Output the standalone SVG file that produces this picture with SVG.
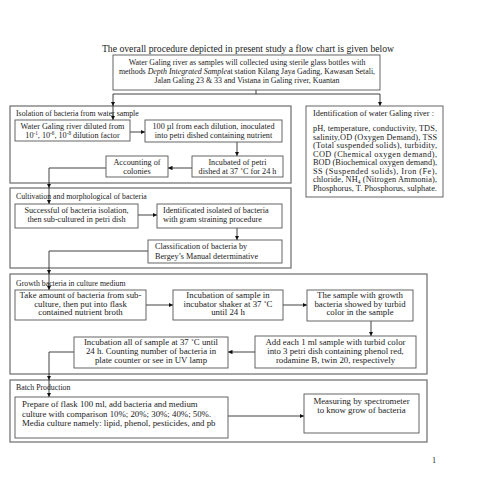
<svg xmlns="http://www.w3.org/2000/svg" width="495" height="495" viewBox="0 0 495 495">
<style>
text{font-family:"Liberation Serif","Times New Roman",serif;fill:#1a1a1a;font-size:8.2px}
.t{font-size:9.7px}
.top{font-size:7.9px}
.big{font-size:8.8px}
.id{font-size:8.3px}
.c{text-anchor:middle}
.lab{font-size:7.8px}
.sec{fill:none;stroke:#777;stroke-width:1.3}
.box{fill:#fff;stroke:#555;stroke-width:0.9}
.ln{fill:none;stroke:#111;stroke-width:0.8}
</style>
<defs>
<marker id="ah" viewBox="0 0 6 6" refX="6" refY="3" markerWidth="4.5" markerHeight="4.5" orient="auto" markerUnits="userSpaceOnUse">
<path d="M0,0 L6,3 L0,6 z" fill="#111"/>
</marker>
</defs>
<rect width="495" height="495" fill="#fff"/>
<text class="t c" x="248" y="52">The overall procedure depicted in present study a flow chart is given below</text>

<g id="sections">
<rect id="sec-isolation" class="sec" x="10" y="106" width="281" height="77"/>
<rect id="sec-cultivation" class="sec" x="10" y="188" width="281" height="80"/>
<rect id="sec-growth" class="sec" x="10" y="274" width="417" height="100"/>
<rect id="sec-batch" class="sec" x="10" y="380" width="417" height="62"/>
<text class="lab" x="16" y="116">Isolation of bacteria from water sample</text>
<text class="lab" x="16" y="199">Cultivation and morphological of bacteria</text>
<text class="lab" x="16" y="285.5">Growth bacteria in culture medium</text>
<text class="lab" x="16" y="390">Batch Production</text>
</g>

<g id="connectors">
<path class="ln" d="M256,90 V94 M113,94 H380"/>
<path class="ln" d="M113,94 V106" marker-end="url(#ah)"/>
<path class="ln" d="M113,106 V120" marker-end="url(#ah)"/>
<path class="ln" d="M380,94 V106" marker-end="url(#ah)"/>
<path class="ln" d="M130,132 H145" marker-end="url(#ah)"/>
<path class="ln" d="M237,142 V156" marker-end="url(#ah)"/>
<path class="ln" d="M192,168 H168" marker-end="url(#ah)"/>
<path class="ln" d="M106,168 H49 V188" marker-end="url(#ah)"/>
<path class="ln" d="M49,188 V204" marker-end="url(#ah)"/>
<path class="ln" d="M138,215 H157" marker-end="url(#ah)"/>
<path class="ln" d="M237,228 V240" marker-end="url(#ah)"/>
<path class="ln" d="M148,251 H49 V274" marker-end="url(#ah)"/>
<path class="ln" d="M49,274 V290" marker-end="url(#ah)"/>
<path class="ln" d="M146,305 H173" marker-end="url(#ah)"/>
<path class="ln" d="M283,305 H307" marker-end="url(#ah)"/>
<path class="ln" d="M371,321 V336" marker-end="url(#ah)"/>
<path class="ln" d="M255,352 H228" marker-end="url(#ah)"/>
<path class="ln" d="M74,352 H49 V380" marker-end="url(#ah)"/>
<path class="ln" d="M49,380 V397" marker-end="url(#ah)"/>
<path class="ln" d="M228,416 H304" marker-end="url(#ah)"/>
</g>

<g id="n-water">
<rect class="box" x="113" y="55" width="267" height="35"/>
<text class="top c" x="247" y="65">Water Galing river as samples will collected using sterile glass bottles with</text>
<text class="top c" x="247" y="74">methods <tspan font-style="italic">Depth Integrated Sample</tspan>at station Kilang Jaya Gading, Kawasan Setali,</text>
<text class="top c" x="247" y="83">Jalan Galing 23 &amp; 33 and Vistana in Galing river, Kuantan</text>
</g>

<g id="n-ident">
<rect class="box" x="306" y="106" width="137" height="91"/>
<text class="id" x="313" y="115.5">Identification of water Galing river :</text>
<text class="id" x="313" y="131" textLength="124" lengthAdjust="spacing">pH, temperature, conductivity, TDS,</text>
<text class="id" x="313" y="139.5" textLength="124" lengthAdjust="spacing">salinity,OD (Oxygen Demand), TSS</text>
<text class="id" x="313" y="148" textLength="124" lengthAdjust="spacing">(Total suspended solids), turbidity,</text>
<text class="id" x="313" y="156.5" textLength="124" lengthAdjust="spacing">COD (Chemical oxygen demand),</text>
<text class="id" x="313" y="165" textLength="124" lengthAdjust="spacing">BOD (Biochemical oxygen demand),</text>
<text class="id" x="313" y="173.5" textLength="124" lengthAdjust="spacing">SS (Suspended solids), Iron (Fe),</text>
<text class="id" x="313" y="182" textLength="124" lengthAdjust="spacing">chloride, NH<tspan font-size="5.5" dy="1.5">4</tspan><tspan dy="-1.5"> (Nitrogen Ammonia),</tspan></text>
<text class="id" x="313" y="190.5">Phosphorus, T. Phosphorus, sulphate.</text>
</g>

<g id="n-dilute">
<rect class="box" x="15" y="120" width="115" height="21"/>
<text class="c" x="72.5" y="128.5">Water Galing river diluted from</text>
<text class="c" x="72.5" y="137.5">10<tspan font-size="5.2" dy="-2.8">-1</tspan><tspan dy="2.8">, 10</tspan><tspan font-size="5.2" dy="-2.8">-6</tspan><tspan dy="2.8">, 10</tspan><tspan font-size="5.2" dy="-2.8">-8</tspan><tspan dy="2.8"> dilution factor</tspan></text>
</g>

<g id="n-inoculate">
<rect class="box" x="145" y="120" width="137" height="22"/>
<text class="c" x="213.5" y="128.5">100 µl from each dilution, inoculated</text>
<text class="c" x="213.5" y="137.5">into petri dished containing nutrient</text>
</g>

<g id="n-incubated">
<rect class="box" x="192" y="156" width="91" height="21"/>
<text class="c" x="237.5" y="164.5">Incubated of petri</text>
<text class="c" x="237.5" y="173.5">dished at 37 ˚C for 24 h</text>
</g>

<g id="n-accounting">
<rect class="box" x="106" y="156" width="62" height="21"/>
<text class="c" x="137" y="164.5">Accounting of</text>
<text class="c" x="137" y="173.5">colonies</text>
</g>

<g id="n-success">
<rect class="box" x="15" y="204" width="123" height="24"/>
<text class="c" x="76.5" y="213">Successful of bacteria isolation,</text>
<text class="c" x="76.5" y="222">then sub-cultured in petri dish</text>
</g>

<g id="n-gram">
<rect class="box" x="157" y="204" width="125" height="24"/>
<text x="163" y="213">Identificated isolated of bacteria</text>
<text x="163" y="222">with gram straining procedure</text>
</g>

<g id="n-classify">
<rect class="box" x="148" y="240" width="134" height="23"/>
<text x="155" y="249">Classification of bacteria by</text>
<text x="155" y="258.5">Bergey’s Manual determinative</text>
</g>

<g id="n-take">
<rect class="box" x="15" y="290" width="131" height="30"/>
<text class="big c" x="80.5" y="298">Take amount of bacteria from sub-</text>
<text class="big c" x="80.5" y="306.5">culture, then put into flask</text>
<text class="big c" x="80.5" y="315">contained nutrient broth</text>
</g>

<g id="n-shaker">
<rect class="box" x="173" y="290" width="110" height="30"/>
<text class="big c" x="228" y="298">Incubation of sample in</text>
<text class="big c" x="228" y="306.5">incubator shaker at 37 ˚C</text>
<text class="big c" x="228" y="315">until 24 h</text>
</g>

<g id="n-turbid">
<rect class="box" x="307" y="290" width="106" height="31"/>
<text class="big c" x="360" y="298">The sample with growth</text>
<text class="big c" x="360" y="306.5">bacteria showed by turbid</text>
<text class="big c" x="360" y="315">color in the sample</text>
</g>

<g id="n-add">
<rect class="box" x="255" y="336" width="161" height="32"/>
<text class="big c" x="335.5" y="345">Add each 1 ml sample with turbid color</text>
<text class="big c" x="335.5" y="354">into 3 petri dish containing phenol red,</text>
<text class="big c" x="335.5" y="363">rodamine B, twin 20, respectively</text>
</g>

<g id="n-count">
<rect class="box" x="74" y="337" width="154" height="31"/>
<text class="big c" x="151" y="345">Incubation all of sample at 37 ˚C until</text>
<text class="big c" x="151" y="354">24 h. Counting number of bacteria in</text>
<text class="big c" x="151" y="363">plate counter or see in UV lamp</text>
</g>

<g id="n-prepare">
<rect class="box" x="15" y="397" width="213" height="41"/>
<text class="big" x="22" y="407">Prepare of flask 100 ml, add bacteria and medium</text>
<text class="big" x="22" y="416.5">culture with comparison 10%; 20%; 30%; 40%; 50%.</text>
<text class="big" x="22" y="426">Media culture namely: lipid, phenol, pesticides, and pb</text>
</g>

<g id="n-measure">
<rect class="box" x="304" y="394" width="115" height="39"/>
<text class="big c" x="361.5" y="404">Measuring by spectrometer</text>
<text class="big c" x="361.5" y="413">to know grow of bacteria</text>
</g>

<text x="432" y="463" font-size="7.5">1</text>
</svg>
